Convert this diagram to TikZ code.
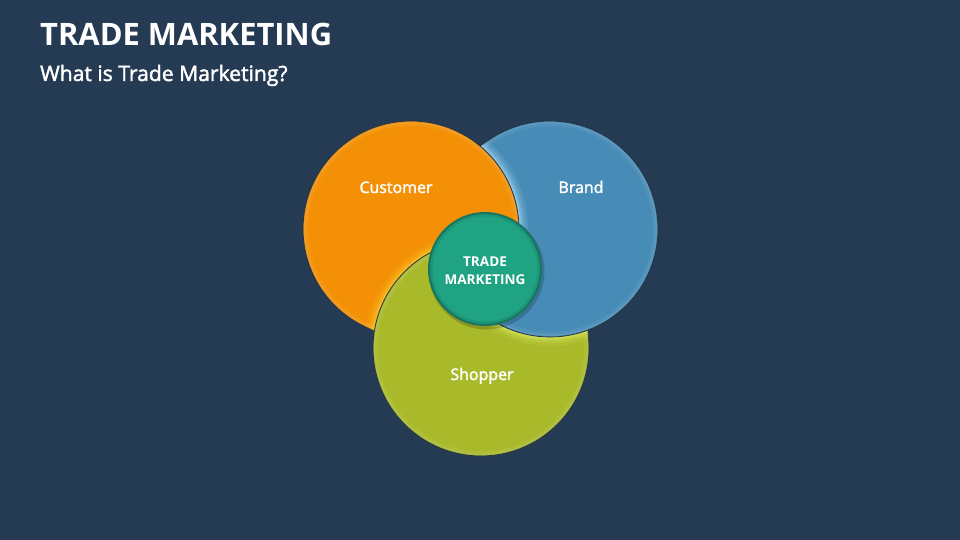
\documentclass[tikz,border=0pt]{standalone}
\usepackage{fontspec}
\setmainfont{Open Sans}
\newfontfamily\labfont{Open Sans}[FakeBold=2]
\usetikzlibrary{calc}
\definecolor{bg}{HTML}{253A53}
\definecolor{corange}{HTML}{F39006}
\definecolor{cblue}{HTML}{478CB7}
\definecolor{cgreen}{HTML}{A8B92A}
\definecolor{cteal}{HTML}{1FA383}
\definecolor{ctealdark}{HTML}{177560}
\definecolor{edge}{HTML}{1F3040}
\definecolor{glowblue}{HTML}{B4E6FA}
\definecolor{gloworange}{HTML}{FFD22E}
\definecolor{glowgreen}{HTML}{E6F26A}
\newcommand\drawbubble[3]{%
  \fill[#3] #1 circle (#2);
  \begin{scope}
    \clip #1 circle (#2);
    \draw[line width=10bp, white, opacity=0.06] #1 circle (#2);
    \draw[line width=5bp, white, opacity=0.08] #1 circle (#2);
    \draw[line width=2bp, black, opacity=0.12] #1 circle (#2);
  \end{scope}
  \draw[edge, line width=0.7bp] #1 circle (#2);
}
\newcommand\drawglow[3]{%
  \draw[line width=18bp, #3, opacity=0.12] #1 circle (#2);
  \draw[line width=12bp, #3, opacity=0.18] #1 circle (#2);
  \draw[line width=7bp, #3, opacity=0.25] #1 circle (#2);
  \draw[line width=3.5bp, #3, opacity=0.35] #1 circle (#2);
}
\tikzset{
  titletext/.style={anchor=base west, text=white, inner sep=0pt, font=\bfseries\fontsize{31}{36}\selectfont},
  subtext/.style={anchor=base west, text=white, inner sep=0pt, font=\labfont\fontsize{21.2}{25}\selectfont},
  labeltext/.style={anchor=base, text=white, inner sep=0pt, font=\labfont\fontsize{16}{19}\selectfont},
  centertext/.style={anchor=base, text=white, inner sep=0pt, font=\bfseries\fontsize{13.6}{16}\selectfont},
}
\begin{document}
\begin{tikzpicture}[x=1bp,y=-1bp]
\fill[bg] (0,0) rectangle (960,540);
\useasboundingbox (0,0) rectangle (960,540);
\coordinate (cO) at (411,229);
\coordinate (cB) at (550,229);
\coordinate (cG) at (481,348);
\coordinate (cT) at (485,269);
% blue
\drawbubble{(cB)}{108}{cblue}
\begin{scope}
  \clip (cB) circle (108);
  \drawglow{(cO)}{108}{glowblue}
\end{scope}
% orange
\drawbubble{(cO)}{108}{corange}
\begin{scope}
  \clip (cO) circle (108);
  \drawglow{(cG)}{108}{gloworange}
\end{scope}
% green
\drawbubble{(cG)}{108}{cgreen}
\begin{scope}
  \clip (cG) circle (108);
  \drawglow{(cB)}{108}{glowgreen}
\end{scope}
\begin{scope}
  \clip (cG) circle (109);
  \drawbubble{(cB)}{108}{cblue}
\end{scope}
% teal centre
\fill[black, opacity=0.18] ($(cT)+(1.5,2.5)$) circle (58);
\node[circle, draw=ctealdark, line width=2bp, fill=cteal, minimum size=112bp, inner sep=0pt] (center) at (cT) {};
\begin{scope}
  \clip (cT) circle (55);
  \draw[line width=5bp, black, opacity=0.08] (cT) circle (55);
\end{scope}
\node[centertext] (t1) at (485,267) {TRADE};
\node[centertext] (t2) at (485,285) {MARKETING};
% labels
\node[labeltext] (customer) at (396,193) {Customer};
\node[labeltext] (brand) at (581,193) {Brand};
\node[labeltext] (shopper) at (482,380) {Shopper};
% titles
\node[titletext] (title) at (40,46) {TRADE MARKETING};
\node[subtext] (subtitle) at (40,81) {What is Trade Marketing?};
\end{tikzpicture}
\end{document}
